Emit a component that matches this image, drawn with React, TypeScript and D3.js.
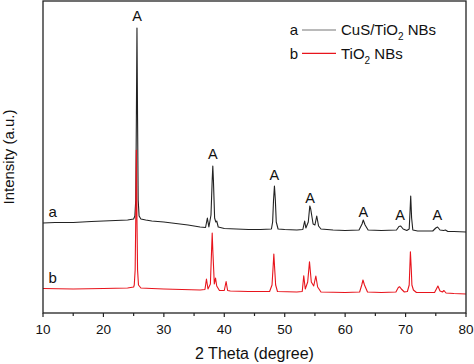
import React from "react";
import * as d3 from "d3";

// 2θ (degree), intensity (a.u.)
const curveA: [number, number][] = [
  [10, 900], [12, 905], [15, 905], [18, 915], [20, 920], [22, 925], [24, 930], [25, 940],
  [25.2, 970], [25.35, 1130], [25.45, 1930], [25.55, 2850], [25.65, 1930], [25.75, 1130], [25.9, 970],
  [26.2, 940], [27, 930], [28, 920], [30, 910], [32, 895], [34, 880], [36, 860], [36.9, 855],
  [37.2, 950], [37.45, 860], [37.8, 980], [38.0, 1330], [38.1, 1470], [38.2, 1330], [38.4, 950],
  [38.6, 910], [38.75, 920], [39, 860], [40, 845], [42, 840], [44, 835], [46, 835], [47.8, 840],
  [48.0, 910], [48.15, 1130], [48.3, 1270], [48.45, 1130], [48.6, 910], [48.9, 840], [50, 835],
  [52, 830], [53.0, 835], [53.3, 920], [53.5, 850], [53.9, 910], [54.15, 1070], [54.3, 1040],
  [54.7, 890], [55.0, 880], [55.3, 970], [55.6, 870], [56, 840], [58, 830], [60, 825], [62.3, 830],
  [62.8, 890], [63.0, 930], [63.3, 880], [63.8, 830], [66, 825], [68.5, 830], [68.9, 865],
  [69.2, 870], [69.6, 840], [70.2, 825], [70.6, 840], [70.75, 1030], [70.85, 1170], [71.0, 950],
  [71.2, 830], [72, 820], [74.5, 820], [75.0, 850], [75.3, 860], [75.7, 830], [76.3, 825],
  [76.6, 830], [77, 815], [78, 815], [80, 810],
];

const curveB: [number, number][] = [
  [10, 245], [15, 240], [20, 245], [24, 250], [25.0, 260], [25.1, 280], [25.25, 430], [25.35, 930],
  [25.45, 1630], [25.55, 930], [25.65, 430], [25.8, 280], [26.2, 250], [28, 245], [30, 240],
  [33, 235], [36, 230], [36.8, 235], [37.05, 340], [37.3, 240], [37.7, 290], [37.9, 630], [38.0, 800],
  [38.1, 630], [38.35, 290], [38.55, 350], [38.75, 270], [39.2, 225], [40.0, 225], [40.3, 315],
  [40.55, 225], [41, 220], [44, 215], [47.5, 215], [47.9, 280], [48.05, 430], [48.2, 590],
  [48.35, 430], [48.5, 280], [48.8, 215], [52, 210], [52.9, 215], [53.15, 373], [53.4, 240],
  [53.8, 310], [54.1, 513], [54.4, 310], [54.8, 270], [55.15, 370], [55.45, 260], [56, 210],
  [60, 205], [62.4, 210], [62.75, 280], [62.95, 330], [63.2, 280], [63.7, 210], [66, 205],
  [68.4, 210], [68.8, 255], [69.0, 263], [69.3, 240], [69.8, 210], [70.3, 215], [70.6, 280],
  [70.8, 613], [70.95, 430], [71.05, 280], [71.3, 230], [71.8, 205], [74.8, 205], [75.1, 240],
  [75.35, 270], [75.7, 220], [76.1, 210], [76.35, 225], [76.7, 200], [78, 195], [80, 190],
];

// anatase peak markers: [2θ, label intensity]
const peakLabels: [number, number][] = [
  [25.55, 2973], [38.1, 1590], [48.3, 1380], [54.2, 1150], [63.0, 1007], [69.1, 980], [75.25, 980],
];

const xTicks = [10, 20, 30, 40, 50, 60, 70, 80];
const xMinorTicks = [15, 25, 35, 45, 55, 65, 75];
const seriesNames = ["CuS/TiO", "TiO"];
const seriesKeys = ["a", "b"];
const seriesColors = ["#222222", "#e8141c"];

const W = 474, H = 364;
const L = 43, R = 466, T = 1, B = 313;
const FONT = "'Liberation Sans', Arial, Helvetica, sans-serif";

export default function App() {
  const x = d3.scaleLinear().domain([10, 80]).range([L, R]);
  const y = d3.scaleLinear().domain([0, 3120]).range([B, T]);
  const line = d3.line<[number, number]>().x(d => x(d[0])).y(d => y(d[1]));

  return (
    <svg width={W} height={H} style={{ position: "absolute", left: 0, top: 0, background: "#fff" }} fontFamily={FONT}>
      <rect x={0} y={0} width={W} height={H} fill="#fff" />
      <path d={line(curveA) || ""} fill="none" stroke={seriesColors[0]} strokeWidth={1.1} strokeLinejoin="round" />
      <path d={line(curveB) || ""} fill="none" stroke={seriesColors[1]} strokeWidth={1.1} strokeLinejoin="round" />

      {/* frame */}
      <rect x={L} y={T} width={R - L} height={B - T} fill="none" stroke="#222" strokeWidth={1.3} />

      {/* ticks */}
      {xTicks.map(t => (
        <g key={"t" + t}>
          <line x1={x(t)} x2={x(t)} y1={B} y2={B + 4} stroke="#222" strokeWidth={1.2} />
          <text x={x(t)} y={329.5} dy="0.35em" textAnchor="middle" fontSize={13.5} fill="#111">{t}</text>
        </g>
      ))}
      {xMinorTicks.map(t => (
        <line key={"m" + t} x1={x(t)} x2={x(t)} y1={B} y2={B + 3} stroke="#222" strokeWidth={1.2} />
      ))}

      <text x={(L + R) / 2} y={353} dy="0.35em" textAnchor="middle" fontSize={16} fill="#111">2 Theta (degree)</text>
      <text transform={`translate(9,${(T + B) / 2}) rotate(-90)`} dy="0.35em" textAnchor="middle" fontSize={15} fill="#111">Intensity (a.u.)</text>

      {peakLabels.map(([t, v], i) => (
        <text key={"p" + i} x={x(t)} y={y(v)} dy="0.35em" textAnchor="middle" fontSize={14.5} fill="#111">A</text>
      ))}

      {/* curve labels */}
      <text x={52.7} y={y(curveA[0][1]) - 11} dy="0.35em" textAnchor="middle" fontSize={15} fill="#111">{seriesKeys[0]}</text>
      <text x={52.7} y={y(curveB[0][1]) - 10.5} dy="0.35em" textAnchor="middle" fontSize={15} fill="#111">{seriesKeys[1]}</text>

      {/* legend */}
      {seriesNames.map((name, i) => {
        const ly = 30 + i * 23.3;
        return (
          <g key={"l" + i}>
            <text x={294} y={ly} dy="0.35em" textAnchor="middle" fontSize={15} fill="#111">{seriesKeys[i]}</text>
            <line x1={302} x2={336} y1={ly} y2={ly} stroke={i === 0 ? "#777" : seriesColors[1]} strokeWidth={1.2} />
            <text x={341} y={ly} dy="0.35em" fontSize={15} fill="#111">
              {name}
              <tspan fontSize={10} dy="5">2</tspan>
              <tspan dy="-5"> NBs</tspan>
            </text>
          </g>
        );
      })}
    </svg>
  );
}
